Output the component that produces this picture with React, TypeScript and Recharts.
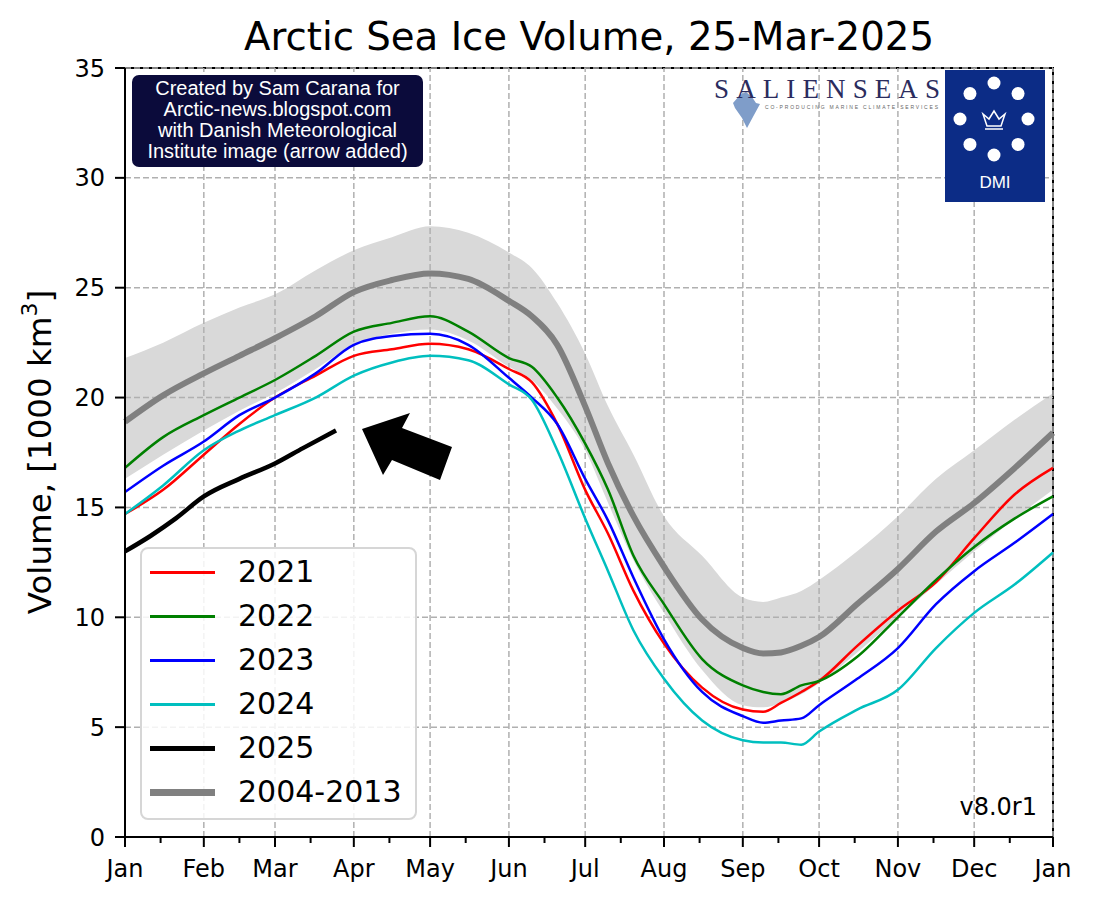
import { Area, ComposedChart, Legend, Line, ReferenceArea, ReferenceLine, XAxis, YAxis } from 'recharts';

// day-of-year sample points
const days = [0, 15, 31, 45, 59, 75, 90, 105, 120, 135, 151, 160, 170, 181, 190, 200, 212, 227, 243, 251, 258, 266, 273, 288, 304, 319, 334, 350, 365];

const vol2021 = [14.7, 15.8, 17.4, 18.8, 20.0, 21.0, 21.9, 22.2, 22.45, 22.2, 21.3, 20.7, 18.8, 15.8, 13.8, 11.2, 8.8, 6.8, 5.8, 5.7, 6.1, 6.6, 7.1, 8.7, 10.3, 11.6, 13.6, 15.6, 16.8];
const vol2022 = [16.8, 18.2, 19.2, 20.0, 20.8, 21.9, 23.0, 23.4, 23.7, 23.0, 21.8, 21.4, 20.0, 17.9, 15.8, 12.8, 10.6, 8.1, 6.9, 6.6, 6.5, 6.9, 7.1, 8.2, 10.0, 11.7, 13.2, 14.5, 15.5];
const vol2023 = [15.7, 16.9, 18.0, 19.2, 20.0, 21.1, 22.4, 22.8, 22.9, 22.4, 20.9, 20.0, 18.8, 16.3, 14.4, 11.8, 9.0, 6.6, 5.5, 5.2, 5.3, 5.4, 6.0, 7.2, 8.6, 10.6, 12.1, 13.4, 14.7];
const vol2024 = [14.7, 16.0, 17.6, 18.5, 19.2, 20.0, 21.0, 21.6, 21.9, 21.7, 20.6, 19.9, 17.6, 14.5, 12.1, 9.4, 7.2, 5.3, 4.4, 4.3, 4.3, 4.2, 4.8, 5.8, 6.7, 8.6, 10.2, 11.5, 12.95];
const volMean = [18.9, 20.1, 21.1, 21.9, 22.7, 23.7, 24.8, 25.35, 25.65, 25.4, 24.4, 23.7, 22.4, 19.6, 17.0, 14.6, 12.3, 9.9, 8.6, 8.35, 8.4, 8.7, 9.1, 10.6, 12.2, 13.9, 15.2, 16.8, 18.4];
const bandLow = [16.3, 17.4, 18.5, 19.4, 20.2, 21.3, 22.4, 22.9, 23.1, 22.6, 21.4, 20.8, 19.5, 17.6, 15.2, 12.6, 10.2, 7.6, 6.0, 5.9, 6.1, 6.5, 7.0, 8.4, 10.0, 11.5, 13.0, 14.5, 15.8];
const bandHigh = [21.8, 22.5, 23.4, 24.1, 24.7, 25.8, 26.7, 27.3, 27.8, 27.5, 26.6, 25.9, 24.3, 22.0, 19.6, 17.4, 14.6, 12.8, 10.9, 10.7, 10.9, 11.2, 11.7, 13.0, 14.6, 16.3, 17.6, 19.0, 20.2];

const days2025 = [0, 10, 20, 31, 45, 59, 70, 83];
const vol2025 = [13.0, 13.7, 14.5, 15.5, 16.3, 17.0, 17.7, 18.5];

const monthStarts = [0, 31, 59, 90, 120, 151, 181, 212, 243, 273, 304, 334, 365];
const monthLabels = ['Jan', 'Feb', 'Mar', 'Apr', 'May', 'Jun', 'Jul', 'Aug', 'Sep', 'Oct', 'Nov', 'Dec', 'Jan'];
const midMonths = [14, 45, 73, 104, 134, 165, 195, 226, 257, 287, 318, 348];
const yTicks = [0, 5, 10, 15, 20, 25, 30, 35];

const creditLines = [
  'Created by Sam Carana for',
  'Arctic-news.blogspot.com',
  'with Danish Meteorological',
  'Institute image (arrow added)',
];

const FONT = 'DejaVu Sans, sans-serif';

const chartData = days.map((d, i) => ({
  day: d,
  y2021: vol2021[i],
  y2022: vol2022[i],
  y2023: vol2023[i],
  y2024: vol2024[i],
  mean: volMean[i],
  band: [bandLow[i], bandHigh[i]],
}));

const data2025 = days2025.map((d, i) => ({ day: d, y2025: vol2025[i] }));

const legendItems = [
  { name: '2021', color: '#ff0000', width: 3 },
  { name: '2022', color: '#008000', width: 3 },
  { name: '2023', color: '#0000ff', width: 3 },
  { name: '2024', color: '#00bfbf', width: 3 },
  { name: '2025', color: '#000000', width: 5 },
  { name: '2004-2013', color: '#808080', width: 7 },
];

function MonthTick({ x, y, payload }: any) {
  const i = monthStarts.indexOf(payload.value);
  const major = i >= 0;
  return (
    <g>
      <line x1={x} x2={x} y1={y} y2={y + (major ? 10 : 6)} stroke="#000" strokeWidth={2} />
      {major && (
        <text x={x} y={y + 40} textAnchor="middle" fontSize={24} fill="#000" fontFamily={FONT}>
          {monthLabels[i]}
        </text>
      )}
    </g>
  );
}

function LegendBox() {
  return (
    <div
      style={{
        width: 273,
        height: 269,
        border: '2px solid #d6d6d6',
        borderRadius: 8,
        background: 'rgba(255,255,255,0.85)',
        position: 'relative',
        fontFamily: FONT,
      }}
    >
      {legendItems.map((it, i) => (
        <div key={it.name} style={{ position: 'absolute', left: 8, top: 23 + i * 44 - 20, height: 40, display: 'flex', alignItems: 'center' }}>
          <div style={{ width: 65, height: it.width, background: it.color }} />
          <span style={{ marginLeft: 23, fontSize: 30, color: '#000', lineHeight: '40px' }}>{it.name}</span>
        </div>
      ))}
    </div>
  );
}

function Overlay() {
  const ring = [0, 45, 90, 135, 180, 225, 270, 315];
  return (
    <svg width={1085} height={888} style={{ position: 'absolute', left: 0, top: 0, pointerEvents: 'none' }}>
      <text x={581} y={42} textAnchor="middle" fontSize={38.7} fontFamily={FONT} fill="#000">
        Arctic Sea Ice Volume, 25-Mar-2025
      </text>
      <text x={43} y={444} transform="rotate(-90 43 444)" textAnchor="middle" fontSize={32.5} fontFamily={FONT} fill="#000">
        Volume, [1000 km<tspan fontSize={22} dy={-14}>3</tspan><tspan dy={14}>]</tspan>
      </text>

      <rect x={124} y={67} width={291} height={92} rx={7} fill="#0b0b3b" />
      {creditLines.map((t, i) => (
        <text key={t} x={269.5} y={87 + i * 21} textAnchor="middle" fontSize={20} fontFamily="Liberation Sans, Arial, sans-serif" fill="#fff">
          {t}
        </text>
      ))}

      <polygon points="725,95 732,87 738,84 744,89 748,95 752,96 746,107 739,120 734,110 727,100" fill="#7f9dc9" />
      <text x={706} y={90} fontSize={27} fontFamily="Liberation Serif, serif" fill="#2b2c5e" textLength={226} lengthAdjust="spacing">
        SALIENSEAS
      </text>
      <text x={757} y={101} fontSize={5} fontFamily="Liberation Sans, sans-serif" fill="#666" textLength={173} lengthAdjust="spacing">
        CO-PRODUCING MARINE CLIMATE SERVICES
      </text>

      <rect x={937} y={62} width={100} height={132} fill="#0c2c86" />
      {ring.map((a) => (
        <circle key={a} cx={986 + 34 * Math.sin((a * Math.PI) / 180)} cy={111 - 36 * Math.cos((a * Math.PI) / 180)} r={6.5} fill="#fff" />
      ))}
      <path d="M975,106 L979,118 L993,118 L997,106 L991,111 L986,103 L981,111 Z M977,121 L995,121" fill="none" stroke="#fff" strokeWidth={1.5} />
      <text x={987} y={180} textAnchor="middle" fontSize={17} fontFamily="Liberation Sans, Arial, sans-serif" fill="#fff">
        DMI
      </text>

      <polygon points="354,421 402,405 394,420 444,439 432,472 384,452 375,467" fill="#000" />

      <text x={1029} y={807} textAnchor="end" fontSize={24} fontFamily={FONT} fill="#000">
        v8.0r1
      </text>
    </svg>
  );
}

export default function App() {
  const xTicks = [...monthStarts, ...midMonths].sort((a, b) => a - b);
  return (
    <div style={{ position: 'relative', width: 1085, height: 888 }}>
      <ComposedChart width={1085} height={888} data={chartData} margin={{ top: 60, right: 40, left: 57, bottom: 9 }}>
        <XAxis
          dataKey="day"
          type="number"
          domain={[0, 365]}
          ticks={xTicks}
          interval={0}
          tickLine={false}
          tickSize={0}
          tickMargin={0}
          tick={<MonthTick />}
          height={50}
          axisLine={{ stroke: '#000', strokeWidth: 2 }}
        />
        <YAxis
          type="number"
          domain={[0, 35]}
          ticks={yTicks}
          interval={0}
          width={60}
          tickSize={10}
          tickMargin={10}
          tickLine={{ stroke: '#000', strokeWidth: 2 }}
          axisLine={{ stroke: '#000', strokeWidth: 2 }}
          tick={{ fontSize: 24, fill: '#000', fontFamily: FONT }}
        />
        <Area dataKey="band" type="monotone" stroke="none" fill="#d9d9d9" fillOpacity={1} isAnimationActive={false} />
        {monthStarts.map((d) => (
          <ReferenceLine key={'x' + d} x={d} stroke="#b0b0b0" strokeWidth={1.5} strokeDasharray="6 3" />
        ))}
        {yTicks.map((v) => (
          <ReferenceLine key={'y' + v} y={v} stroke="#b0b0b0" strokeWidth={1.5} strokeDasharray="6 3" />
        ))}
        <Line dataKey="mean" type="monotone" stroke="#808080" strokeWidth={6} dot={false} isAnimationActive={false} />
        <Line dataKey="y2021" type="monotone" stroke="#ff0000" strokeWidth={2.5} dot={false} isAnimationActive={false} />
        <Line dataKey="y2022" type="monotone" stroke="#008000" strokeWidth={2.5} dot={false} isAnimationActive={false} />
        <Line dataKey="y2023" type="monotone" stroke="#0000ff" strokeWidth={2.5} dot={false} isAnimationActive={false} />
        <Line dataKey="y2024" type="monotone" stroke="#00bfbf" strokeWidth={2.5} dot={false} isAnimationActive={false} />
        <Line data={data2025} dataKey="y2025" type="monotone" stroke="#000" strokeWidth={4.5} dot={false} isAnimationActive={false} />
        <ReferenceArea x1={0} x2={365} y1={0} y2={35} fill="none" fillOpacity={0} stroke="#000" strokeWidth={2} />
        <Legend
          layout="horizontal"
          verticalAlign="middle"
          align="center"
          content={() => <LegendBox />}
          wrapperStyle={{ position: 'absolute', left: 132, top: 539, width: 277, height: 273 }}
        />
      </ComposedChart>
      <Overlay />
    </div>
  );
}
